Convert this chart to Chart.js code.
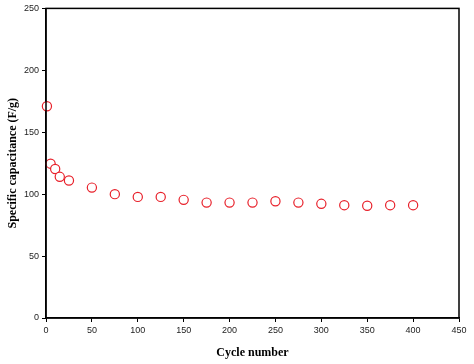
<!DOCTYPE html>
<html><head><meta charset="utf-8">
<script src="https://cdn.jsdelivr.net/npm/chart.js@4"></script>
<style>html,body{margin:0;padding:0;background:#fff}#wrap{width:474px;height:364px}</style>
</head><body><div id="wrap"><canvas id="c" width="474" height="364"></canvas></div>
<script>
const cycles = [1, 5, 10, 15, 25, 50, 75, 100, 125, 150, 175, 200, 225, 250, 275, 300, 325, 350, 375, 400];
const capacitance = [171, 124.6, 120.3, 114, 111, 105.3, 100, 97.8, 97.8, 95.4, 93.2, 93.2, 93.2, 94.3, 93.2, 92.2, 91.1, 90.6, 91.1, 91.1];
const xTitle = 'Cycle number';
const yTitle = 'Specific capacitance (F/g)';

const framePlugin = {
  id: 'frame',
  afterDraw(chart) {
    const a = chart.chartArea, ctx = chart.ctx;
    ctx.save();
    ctx.strokeStyle = '#000';
    ctx.lineWidth = 1.5;
    ctx.strokeRect(a.left, a.top, a.right - a.left, a.bottom - a.top);
    ctx.restore();
  }
};

new Chart(document.getElementById('c'), {
  type: 'scatter',
  data: {
    datasets: [{
      data: cycles.map((x, i) => ({x, y: capacitance[i]})),
      borderColor: '#e8202a',
      backgroundColor: '#ffffff',
      borderWidth: 1.2,
      pointRadius: 4.6,
      pointHoverRadius: 4.6,
      clip: false
    }]
  },
  options: {
    responsive: false,
    animation: false,
    layout: {padding: {left: 0, right: 15, top: 7, bottom: 0}},
    plugins: {legend: {display: false}, tooltip: {enabled: false}},
    scales: {
      x: {
        type: 'linear', min: 0, max: 450,
        ticks: {stepSize: 50, color: '#222', font: {family: 'Liberation Sans', size: 9}, padding: 3, maxRotation: 0},
        grid: {drawOnChartArea: false, drawTicks: true, tickLength: 4, color: '#000', lineWidth: 1},
        border: {display: true, color: '#000', width: 1.5},
        title: {display: true, text: xTitle, color: '#000', font: {family: 'Liberation Serif', size: 12, weight: 'bold'}, padding: {top: 4}},
        afterFit(s) { s.height = 46; }
      },
      y: {
        min: 0, max: 250,
        ticks: {stepSize: 50, color: '#222', font: {family: 'Liberation Sans', size: 9}, padding: 3},
        grid: {drawOnChartArea: false, drawTicks: true, tickLength: 4, color: '#000', lineWidth: 1},
        border: {display: true, color: '#000', width: 1.5},
        title: {display: true, text: yTitle, color: '#000', font: {family: 'Liberation Serif', size: 12, weight: 'bold'}, padding: {top: 6, bottom: 2}},
        afterFit(s) { s.width = 46; }
      }
    }
  },
  plugins: [framePlugin]
});
</script></body></html>
